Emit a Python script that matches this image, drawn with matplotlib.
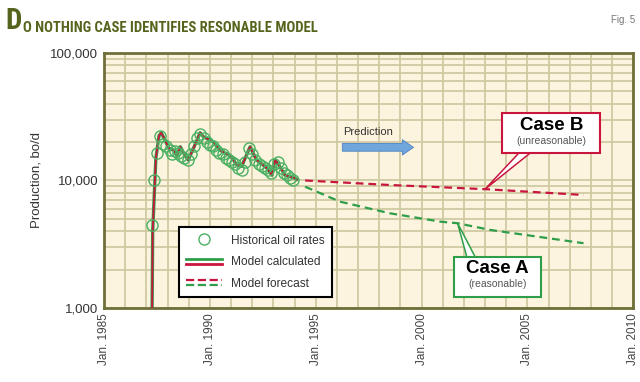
#!/usr/bin/env python3

import numpy as np
import matplotlib
matplotlib.use("Agg")
import matplotlib.pyplot as plt
from matplotlib.lines import Line2D
from matplotlib.patches import Rectangle
from matplotlib.legend_handler import HandlerBase
from matplotlib.ticker import FixedLocator, LogLocator, NullFormatter

# Historical oil rates (circles)
hist_years = [1987.25, 1987.35, 1987.5, 1987.65, 1987.8, 1987.95, 1988.1, 1988.2,
              1988.35, 1988.5, 1988.65, 1988.8, 1988.95, 1989.1, 1989.25, 1989.4,
              1989.55, 1989.7, 1989.85, 1990.0, 1990.15, 1990.3, 1990.45, 1990.6,
              1990.75, 1990.9, 1991.05, 1991.2, 1991.35, 1991.5, 1991.65, 1991.85,
              1992.0, 1992.15, 1992.3, 1992.45, 1992.6, 1992.75, 1992.9, 1993.05,
              1993.2, 1993.35, 1993.5, 1993.65, 1993.8, 1993.95]
hist_rates = [4500, 10000, 16300, 22500, 19500, 18500, 17500, 16000,
              17000, 16500, 15500, 15000, 14500, 16000, 18500, 21500,
              23000, 21500, 20000, 19000, 18500, 17500, 16500, 16000,
              15000, 14500, 14000, 13500, 12500, 12000, 14000, 18000,
              16000, 14500, 13500, 13000, 12500, 12000, 11500, 13500,
              14000, 12500, 11500, 11000, 10500, 10000]

# Model calculated (history match)
model_years = [1987.27, 1987.3, 1987.45, 1987.6, 1987.7, 1987.88, 1988.05, 1988.28,
               1988.45, 1988.6, 1988.8, 1988.98, 1989.2, 1989.54, 1989.7, 1989.85,
               1990.17, 1990.48, 1990.7, 1990.95, 1991.27, 1991.5, 1991.9, 1992.2,
               1992.5, 1992.69, 1992.93, 1993.08, 1993.3, 1993.55, 1993.8, 1994.03, 1994.1]
model_rates = [900, 4000, 15000, 22500, 23700, 20800, 18000, 17300,
               15800, 18400, 16000, 14500, 17500, 23700, 22000, 21400,
               20100, 17300, 16500, 15800, 13300, 12900, 18400, 14500,
               13300, 12500, 11000, 14500, 12900, 11000, 10700, 10400, 10200]

# Forecasts
case_b_years = [1994.5, 1998.5, 2003.0, 2007.65]
case_b_rates = [10000, 9220, 8550, 7700]
case_a_years = [1994.5, 1996.15, 1998.5, 2000.9, 2001.7, 2003.25, 2007.65]
case_a_rates = [8940, 6820, 5530, 4750, 4620, 4090, 3220]

x_ticks = [1985, 1990, 1995, 2000, 2005, 2010]
x_labels = [f"Jan. {y}" for y in x_ticks]
y_ticks = [1000, 10000, 100000]
y_labels = ["1,000", "10,000", "100,000"]

RED = "#c8163f"
GREEN = "#2f9e4a"
OLIVE = "#6f6f3a"
GRID = "#cfcaa2"
DASH = (0, (3.5, 2.2))


class HandlerStacked(HandlerBase):
    def create_artists(self, legend, orig_handle, xdescent, ydescent,
                       width, height, fontsize, trans):
        top, bottom = orig_handle
        artists = []
        for h, yy in ((top, 0.8 * height), (bottom, 0.2 * height)):
            ln = Line2D([-xdescent, width - xdescent], [yy - ydescent, yy - ydescent],
                        color=h.get_color(), linestyle=h.get_linestyle(),
                        linewidth=h.get_linewidth())
            ln.set_transform(trans)
            artists.append(ln)
        return artists


fig = plt.figure(figsize=(6.4, 3.82), dpi=100)
ax = fig.add_axes([0.1625, 0.194, 0.827, 0.667])
ax.set_facecolor("#fcf4de")

ax.set_yscale("log")
ax.set_xlim(1985, 2010)
ax.set_ylim(1000, 100000)

# grid
ax.xaxis.set_minor_locator(FixedLocator(np.arange(1985, 2011, 1)))
ax.yaxis.set_minor_locator(LogLocator(base=10, subs=np.arange(2, 10)))
ax.yaxis.set_minor_formatter(NullFormatter())
ax.grid(True, which="both", color=GRID, linewidth=1.3)
ax.set_axisbelow(True)

# data
ax.plot(model_years, model_rates, color=GREEN, linewidth=2.4, zorder=3)
ax.plot(model_years, model_rates, color=RED, linewidth=1.3, zorder=4)
ax.plot(hist_years, hist_rates, linestyle="none", marker="o", markersize=8,
        markerfacecolor="none", markeredgecolor="#4cb062", markeredgewidth=1.0, zorder=5)
ax.plot(case_b_years, case_b_rates, color=RED, linestyle=DASH, linewidth=1.6, zorder=3)
ax.plot(case_a_years, case_a_rates, color=GREEN, linestyle=DASH, linewidth=1.6, zorder=3)

# ticks
ax.set_xticks(x_ticks)
ax.set_xticklabels(x_labels, rotation=90, fontsize=8.5, color="#444444",
                   family="Liberation Sans")
ax.set_yticks(y_ticks)
ax.set_yticklabels(y_labels, fontsize=9.5, color="#333333", family="Liberation Sans")
ax.tick_params(which="both", length=0, pad=4)
for sp in ax.spines.values():
    sp.set_color(OLIVE)
    sp.set_linewidth(2)

ax.set_ylabel("Production, bo/d", fontsize=9.5, color="#333333",
              family="Liberation Sans", labelpad=6)

# legend
h_hist = Line2D([], [], linestyle="none", marker="o", markersize=8,
                markerfacecolor="none", markeredgecolor="#4cb062")
h_green = Line2D([], [], color=GREEN, linewidth=2)
h_red = Line2D([], [], color=RED, linewidth=2)
h_red_d = Line2D([], [], color=RED, linewidth=1.6, linestyle=DASH)
h_green_d = Line2D([], [], color=GREEN, linewidth=1.6, linestyle=DASH)
leg = ax.legend([h_hist, (h_green, h_red), (h_red_d, h_green_d)],
                ["Historical oil rates", "Model calculated", "Model forecast"],
                handler_map={tuple: HandlerStacked()},
                loc="lower left", bbox_to_anchor=(0.141, 0.043), borderaxespad=0,
                fancybox=False, framealpha=1, edgecolor="black",
                prop={"family": "Liberation Sans", "size": 8.6},
                handlelength=3.0, labelspacing=0.8, borderpad=0.6)
leg.get_frame().set_linewidth(1.5)
for t in leg.get_texts():
    t.set_color("#333333")

# prediction arrow
ax.annotate("", xy=(0.59, 0.63), xytext=(0.445, 0.63), xycoords="axes fraction",
            arrowprops=dict(arrowstyle="simple,head_width=1.1,head_length=0.8,tail_width=0.55",
                            fc="#6fa6dc", ec="#4c7fc0", lw=0.6))
ax.text(0.452, 0.68, "Prediction", transform=ax.transAxes, fontsize=8,
        color="#333333", family="Liberation Sans")

# case B callout
ax.annotate("", xy=(case_b_years[2], case_b_rates[2]), xytext=(0.80, 0.62),
            textcoords="axes fraction", zorder=6,
            arrowprops=dict(arrowstyle="wedge,tail_width=0.6,shrink_factor=0.5",
                            fc="white", ec=RED, lw=1.1, shrinkA=0, shrinkB=0))
ax.add_patch(Rectangle((0.752, 0.608), 0.186, 0.157, transform=ax.transAxes,
                       fc="white", ec=RED, lw=1.5, zorder=7))
ax.text(0.845, 0.716, "Case B", transform=ax.transAxes, fontsize=13.5, fontweight="bold",
        ha="center", va="center", family="Liberation Sans", zorder=8)
ax.text(0.845, 0.655, "(unreasonable)", transform=ax.transAxes, fontsize=7.5,
        color="#555555", ha="center", va="center", family="Liberation Sans", zorder=8)

# case A callout
ax.annotate("", xy=(case_a_years[4], case_a_rates[4]), xytext=(0.695, 0.19),
            textcoords="axes fraction", zorder=6,
            arrowprops=dict(arrowstyle="wedge,tail_width=0.6,shrink_factor=0.5",
                            fc="white", ec=GREEN, lw=1.1, shrinkA=0, shrinkB=0))
ax.add_patch(Rectangle((0.662, 0.043), 0.164, 0.157, transform=ax.transAxes,
                       fc="white", ec=GREEN, lw=1.5, zorder=7))
ax.text(0.744, 0.153, "Case A", transform=ax.transAxes, fontsize=13.5, fontweight="bold",
        ha="center", va="center", family="Liberation Sans", zorder=8)
ax.text(0.744, 0.092, "(reasonable)", transform=ax.transAxes, fontsize=7.5,
        color="#555555", ha="center", va="center", family="Liberation Sans", zorder=8)

# title
TITLE = "#55641c"
TFONT = ["Roboto Condensed", "Liberation Sans Narrow", "DejaVu Sans"]
d = fig.text(0.008, 0.925, "D", fontsize=21, fontweight="bold", color=TITLE,
             family=TFONT, fontstretch="condensed", va="baseline")
ax.annotate("O NOTHING CASE IDENTIFIES RESONABLE MODEL", xy=(1, 0), xycoords=d,
            xytext=(1, 0), textcoords="offset points", fontsize=10.5,
            fontweight="bold", color=TITLE, va="bottom", fontstretch="condensed",
            family=TFONT, annotation_clip=False)
fig.text(0.955, 0.94, "Fig. 5", fontsize=7, color="#777777", family="Liberation Sans")

fig.savefig("out.png", dpi=100)
